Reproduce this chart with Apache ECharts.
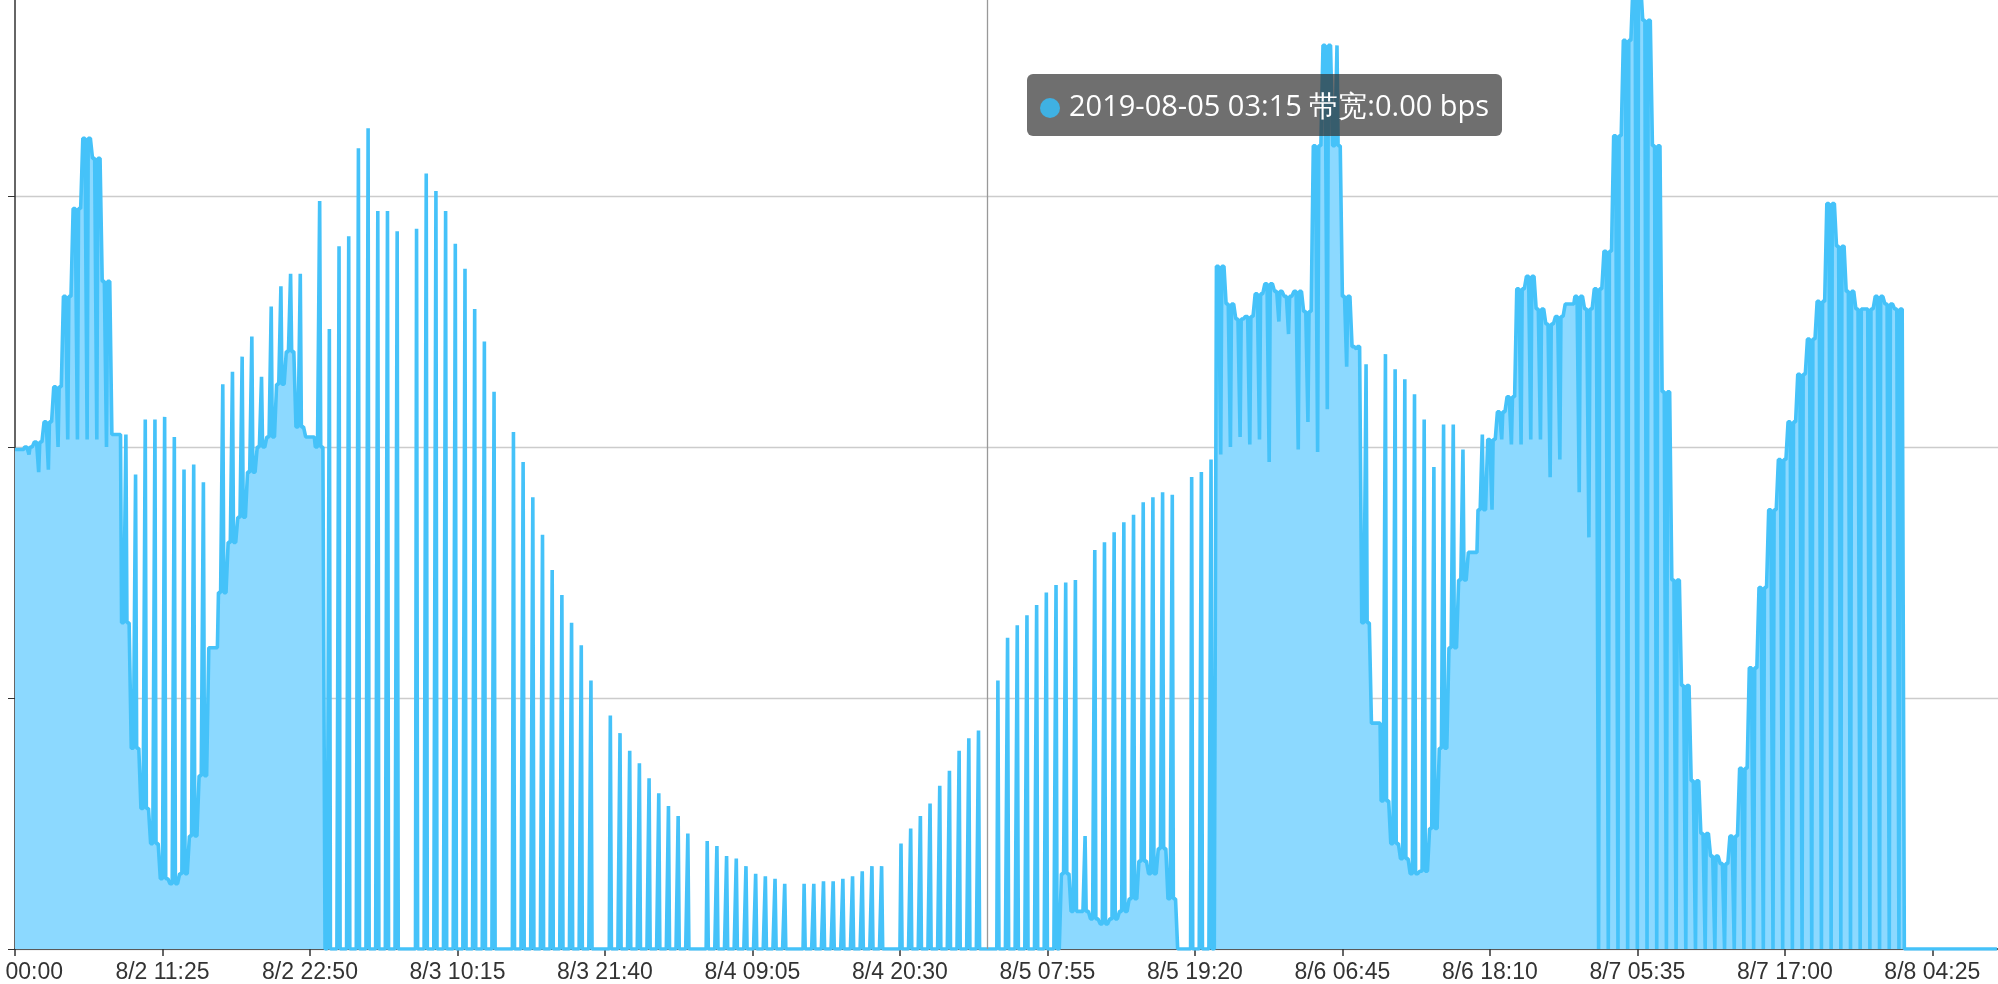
<!DOCTYPE html>
<html><head><meta charset="utf-8">
<script src="https://cdn.jsdelivr.net/npm/echarts@6/dist/echarts.min.js"></script>
<style>html,body{margin:0;padding:0;background:#fff}#c{width:1998px;height:984px}</style>
</head><body><div id="c"></div>
<script>
// Start time and step of the samples
const startTime = '2019-08-02T00:00:00';
const stepMinutes = 5;
const pointsPerPeriod = 9;   // one short spike sample every 9 samples (45 min)
const totalPoints = 1843;
// Per-period base level (8 of every 9 samples)
const baseLevel = [
 1.99,2.0,2.02,2.1,2.24,2.6,2.95,3.23,3.15,2.66,2.05,1.3,0.8,0.56,0.42,0.28,0.26,0.3,0.45,0.69,
 1.2,1.42,1.62,1.72,1.9,2.0,2.04,2.25,2.38,2.08,2.04,2.0,0,0,0,0,0,0,0,0,
 0,0,0,0,0,0,0,0,0,0,0,0,0,0,0,0,0,0,0,0,
 0,0,0,0,0,0,0,0,0,0,0,0,0,0,0,0,0,0,0,0,
 0,0,0,0,0,0,0,0,0,0,0,0,0,0,0,0,0,0,0,0,
 0,0,0,0,0,0,0,0,0.3,0.15,0.15,0.12,0.1,0.12,0.15,0.2,0.35,0.3,0.4,0.2,
 0,0,0,0,2.72,2.57,2.51,2.52,2.61,2.65,2.62,2.6,2.62,2.54,3.2,3.6,3.2,2.6,2.4,1.3,
 0.9,0.59,0.42,0.36,0.30,0.31,0.48,0.8,1.2,1.47,1.58,1.75,2.03,2.14,2.2,2.63,2.68,2.55,2.49,2.52,
 2.57,2.6,2.55,2.63,2.78,3.24,3.62,3.85,3.7,3.2,2.22,1.47,1.05,0.67,0.46,0.37,0.34,0.45,0.72,1.12,
 1.44,1.75,1.95,2.1,2.29,2.43,2.58,2.97,2.8,2.62,2.55,2.55,2.6,2.57,2.55,0,0,0,0,0,
 0,0,0,0,0
];
// Per-period spike sample value
const spikeLevel = [
 1.99,1.97,1.9,1.91,2.0,2.03,2.03,2.03,2.03,2.0,2.05,2.05,1.89,2.11,2.11,2.12,2.04,1.91,1.93,1.86,
 1.2,2.25,2.30,2.36,2.44,2.28,2.56,2.64,2.69,2.69,2.04,2.98,2.47,2.80,2.84,3.19,3.27,2.94,2.94,2.86,
 0,2.87,3.09,3.02,2.94,2.81,2.71,2.55,2.42,2.22,0,2.06,1.94,1.80,1.65,1.51,1.41,1.30,1.21,1.07,
 0,0.93,0.86,0.79,0.74,0.68,0.62,0.57,0.53,0.46,0,0.43,0.41,0.37,0.36,0.33,0.30,0.29,0.28,0.26,
 0,0.26,0.26,0.27,0.27,0.28,0.29,0.31,0.33,0.33,0,0.42,0.48,0.53,0.58,0.65,0.71,0.79,0.84,0.87,
 0,1.07,1.24,1.29,1.33,1.37,1.42,1.45,1.46,1.47,0.45,1.59,1.62,1.66,1.70,1.73,1.78,1.80,1.82,1.81,
 0,1.88,1.90,1.95,1.97,2.0,2.04,2.01,2.03,1.94,2.5,2.45,1.99,2.1,1.98,2.15,3.6,2.32,2.39,2.33,
 0.9,2.37,2.31,2.27,2.21,2.11,1.92,2.09,2.09,1.99,1.58,2.05,1.75,2.03,2.01,2.01,2.03,2.03,1.88,1.95,
 2.57,1.82,1.64,0,0,0,0,0,0,0,0,0,0,0,0,0,0,0,0,0,
 0,0,0,0,0,0,0,0,0,0,0,0,0,0,0,0,0,0,0,0,
 0,0,0,0,0
];
const labelEvery = 137;
const tipIndex = 903;

const pad = n => String(n).padStart(2,'0');
const t0 = new Date(startTime).getTime();
const times = [], values = [];
for (let i = 0; i < totalPoints; i++) {
  const d = new Date(t0 + i*stepMinutes*60000);
  times.push(d);
  const k = Math.floor(i/pointsPerPeriod), j = i % pointsPerPeriod;
  values.push(j === 4 ? spikeLevel[k] : baseLevel[k]);
}
const cats = times.map(d => (d.getMonth()+1)+'/'+d.getDate()+' '+pad(d.getHours())+':'+pad(d.getMinutes()));
const full = d => d.getFullYear()+'-'+pad(d.getMonth()+1)+'-'+pad(d.getDate())+' '+pad(d.getHours())+':'+pad(d.getMinutes());

const chart = echarts.init(document.getElementById('c'));
chart.setOption({
  animation:false,
  grid:{left:15,right:0,top:-55,bottom:35,containLabel:false,outerBoundsMode:'none'},
  tooltip:{trigger:'axis',alwaysShowContent:true,triggerOn:'none',
    backgroundColor:'rgba(50,50,50,0.7)',borderWidth:0,borderRadius:6,padding:[9,13],
    extraCssText:'box-shadow:none;',
    textStyle:{color:'#fff',fontSize:29,fontFamily:'"Open Sans", sans-serif'},
    axisPointer:{type:'line',lineStyle:{color:'#999',width:1.3,type:'solid'}},
    position:(pt)=>[pt[0]+40,74],
    formatter:(ps)=>{const p=ps[0];return '<span style="display:inline-block;width:20px;height:20px;border-radius:50%;background:#3fb1e3;margin-right:9px;vertical-align:-2px"></span>'+full(times[p.dataIndex])+' 带宽:'+p.value.toFixed(2)+' bps';}
  },
  xAxis:{type:'category',data:cats,boundaryGap:false,
    axisLine:{lineStyle:{color:'#333',width:1.5}},
    axisTick:{interval:labelEvery-1,length:7,lineStyle:{color:'#333',width:1.5}},
    axisLabel:{interval:labelEvery-1,color:'#333',fontSize:23,margin:12}},
  yAxis:{type:'value',min:0,max:4,interval:1,
    axisLine:{show:true,lineStyle:{color:'#333',width:1.5}},
    axisTick:{show:true,length:7,lineStyle:{color:'#333'}},
    axisLabel:{show:false},
    splitLine:{lineStyle:{color:'#ccc',width:1.3}}},
  series:[{type:'line',data:values,showSymbol:false,symbol:'none',
    lineStyle:{color:'#3fb1e3',width:3.6},itemStyle:{color:'#3fb1e3'},
    areaStyle:{color:'#80c6ea',opacity:1}}]
});
chart.dispatchAction({type:'showTip',seriesIndex:0,dataIndex:tipIndex});
</script></body></html>
